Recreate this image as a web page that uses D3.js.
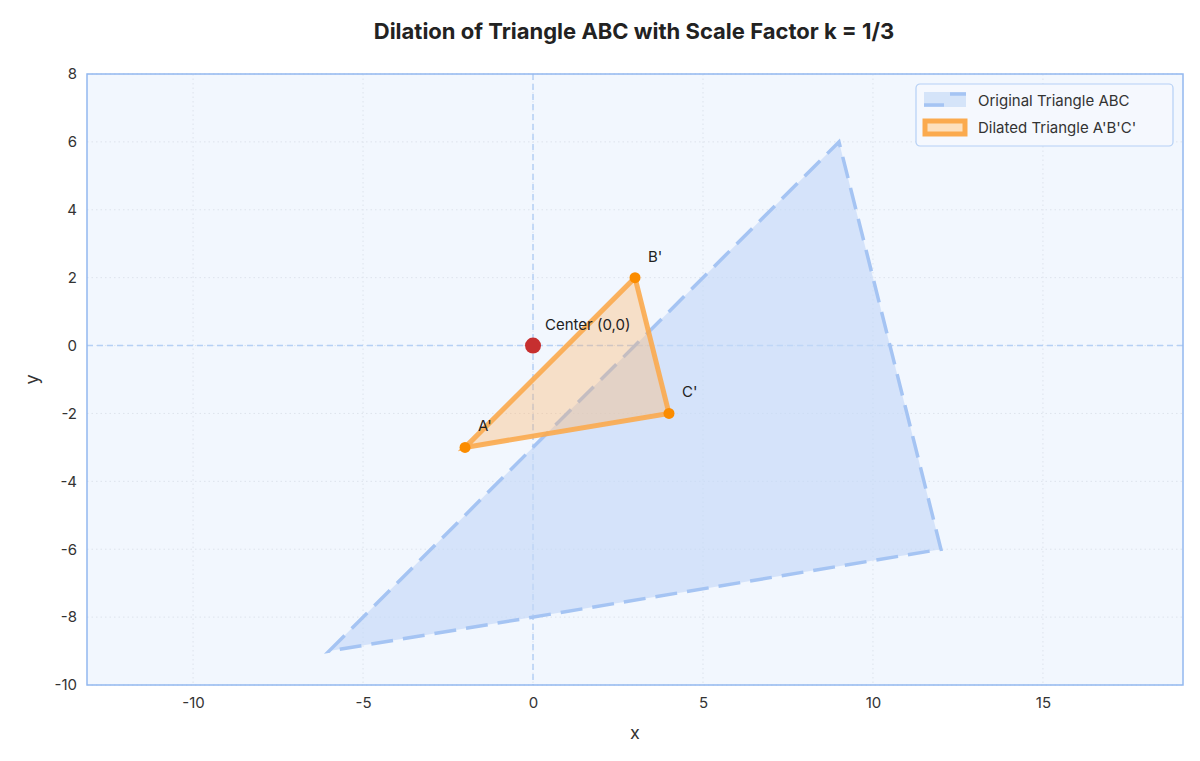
<!DOCTYPE html>
<html><head><meta charset="utf-8">
<script src="https://cdn.jsdelivr.net/npm/d3@7"></script>
<style>body{margin:0;background:#fff;font-family:Inter,"Noto Sans",sans-serif;}</style>
</head><body><svg id="c" width="1200" height="761"></svg>
<script>
var original = [{label:"A", x:-6, y:-9},{label:"B", x:9, y:6},{label:"C", x:12, y:-6}];
var dilated = [{label:"A'", x:-2, y:-3},{label:"B'", x:3, y:2},{label:"C'", x:4, y:-2}];
var center = {x:0, y:0};
var xTicks = [-10,-5,0,5,10,15];
var yTicks = [-10,-8,-6,-4,-2,0,2,4,6,8];

var svg = d3.select("#c");
var L = 87, R = 1183, T = 74, B = 685;
var x = d3.scaleLinear().domain([-13.12, 19.12]).range([L, R]);
var y = d3.scaleLinear().domain([-10, 8]).range([B, T]);

svg.append("rect").attr("x",L).attr("y",T).attr("width",R-L).attr("height",B-T).attr("fill","#f2f7fe");

// grid
svg.append("g").selectAll("line").data(xTicks).join("line")
  .attr("x1",d=>x(d)).attr("x2",d=>x(d)).attr("y1",T).attr("y2",B)
  .attr("stroke","#dde3ec").attr("stroke-dasharray","1.5,3");
svg.append("g").selectAll("line").data(yTicks).join("line")
  .attr("y1",d=>y(d)).attr("y2",d=>y(d)).attr("x1",L).attr("x2",R)
  .attr("stroke","#dde3ec").attr("stroke-dasharray","1.5,3");

// zero axes
svg.append("line").attr("x1",L).attr("x2",R).attr("y1",y(0)).attr("y2",y(0))
  .attr("stroke","#b5d0f5").attr("stroke-width",1.5).attr("stroke-dasharray","6,4");
svg.append("line").attr("y1",T).attr("y2",B).attr("x1",x(0)).attr("x2",x(0))
  .attr("stroke","#b5d0f5").attr("stroke-width",1.5).attr("stroke-dasharray","6,4");

var pts = function(arr){ return arr.map(d=>x(d.x)+","+y(d.y)).join(" "); };

svg.append("polygon").attr("points",pts(original))
  .attr("fill","rgba(197,216,247,0.65)").attr("stroke","#a5c4f3").attr("stroke-width",3.5)
  .attr("stroke-dasharray","22,10").attr("stroke-linejoin","miter");

svg.append("polygon").attr("points",pts(dilated))
  .attr("fill","rgba(255,178,100,0.35)").attr("stroke","#fbaa4e").attr("stroke-width",5)
  .attr("stroke-opacity",0.9).attr("stroke-linejoin","miter");

svg.append("g").selectAll("circle").data(dilated).join("circle")
  .attr("cx",d=>x(d.x)).attr("cy",d=>y(d.y)).attr("r",5.5).attr("fill","#fb8c00");
svg.append("g").selectAll("text").data(dilated).join("text")
  .attr("x",d=>x(d.x)+13).attr("y",d=>y(d.y)-16)
  .attr("font-size",15).attr("fill","#222").text(d=>d.label);

svg.append("circle").attr("cx",x(center.x)).attr("cy",y(center.y)).attr("r",8).attr("fill","#c62f2f");
svg.append("text").attr("x",x(center.x)+12).attr("y",y(center.y)-16)
  .attr("font-size",15).attr("fill","#222").text("Center (0,0)");

// frame
svg.append("rect").attr("x",L).attr("y",T).attr("width",R-L).attr("height",B-T)
  .attr("fill","none").attr("stroke","#93b8ef").attr("stroke-width",1.5);

// axes
var fmt = function(d){ return String(d); };
var xa = svg.append("g").attr("transform","translate(0,"+B+")")
  .call(d3.axisBottom(x).tickValues(xTicks).tickFormat(fmt).tickSize(0).tickPadding(12));
var ya = svg.append("g").attr("transform","translate("+L+",0)")
  .call(d3.axisLeft(y).tickValues(yTicks).tickFormat(fmt).tickSize(0).tickPadding(10));
[xa,ya].forEach(function(a){
  a.select(".domain").remove();
  a.selectAll("text").attr("font-size",15).attr("fill","#333").attr("font-family","Inter,sans-serif");
});
svg.append("text").attr("x",(L+R)/2).attr("y",739).attr("text-anchor","middle")
  .attr("font-size",18).attr("fill","#333").text("x");
svg.append("text").attr("transform","translate(38,"+((T+B)/2)+") rotate(-90)")
  .attr("text-anchor","middle").attr("font-size",18).attr("fill","#333").text("y");

svg.append("text").attr("x",634).attr("y",39).attr("text-anchor","middle")
  .attr("font-size",22).attr("font-weight","bold").attr("fill","#222")
  .text("Dilation of Triangle ABC with Scale Factor k = 1/3");

// legend
var lg = svg.append("g").attr("transform","translate(916,84)");
lg.append("rect").attr("width",257).attr("height",62).attr("rx",4)
  .attr("fill","#f5f8fe").attr("stroke","#b5d0f5").attr("stroke-width",1.2);
lg.append("rect").attr("x",8).attr("y",8).attr("width",42).attr("height",15).attr("fill","#d5e4f9");
lg.append("path").attr("d","M8,21 H28 M34,10 H50").attr("stroke","#a5c4f3").attr("stroke-width",3.5);
lg.append("rect").attr("x",9).attr("y",37).attr("width",40).attr("height",13)
  .attr("fill","#fde0bd").attr("stroke","#fbaa4e").attr("stroke-width",5);
lg.append("text").attr("x",62).attr("y",22).attr("font-size",15).attr("fill","#333").text("Original Triangle ABC");
lg.append("text").attr("x",62).attr("y",49).attr("font-size",15).attr("fill","#333").text("Dilated Triangle A'B'C'");
</script></body></html>
